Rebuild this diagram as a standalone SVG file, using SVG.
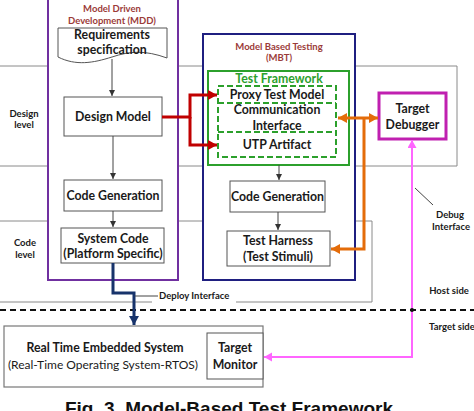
<svg xmlns="http://www.w3.org/2000/svg" width="474" height="411" viewBox="0 0 474 411">
<style>
text{font-family:Lato,"Liberation Sans",sans-serif;fill:#1a1a1a;text-anchor:middle}
.b{font-weight:bold;font-size:12.3px}
.r{font-size:12px}
.t{font-weight:bold;font-size:9.5px;fill:#9b3b39}
.s{font-weight:bold;font-size:9.5px}
.box{fill:#fff;stroke:#555;stroke-width:1}
.band{fill:none;stroke:#8a8a8a;stroke-width:1}
.thin{fill:none;stroke:#444;stroke-width:1}
.gdash{fill:none;stroke:#2ca02c;stroke-width:2;stroke-dasharray:6 3}
</style>
<defs>
<marker id="ag" markerUnits="userSpaceOnUse" markerWidth="8" markerHeight="8" refX="6" refY="3" orient="auto"><path d="M0,0L6,3L0,6z" fill="#333"/></marker>
<marker id="ar" markerUnits="userSpaceOnUse" markerWidth="12" markerHeight="12" refX="9" refY="5" orient="auto"><path d="M0,0L9,5L0,10z" fill="#c00000"/></marker>
<marker id="ao" markerUnits="userSpaceOnUse" markerWidth="12" markerHeight="12" refX="9" refY="5" orient="auto-start-reverse"><path d="M0,0L9,5L0,10z" fill="#e46c0a"/></marker>
<marker id="an" markerUnits="userSpaceOnUse" markerWidth="12" markerHeight="12" refX="9" refY="5" orient="auto"><path d="M0,0L9,5L0,10z" fill="#17336b"/></marker>
<marker id="ap" markerUnits="userSpaceOnUse" markerWidth="12" markerHeight="12" refX="8" refY="4.5" orient="auto-start-reverse"><path d="M0,0L8,4.5L0,9z" fill="#ff66ff"/></marker>
</defs>

<g id="bands">
<path class="band" d="M0,66H457V166H0"/>
<path class="band" d="M0,221H372V302H236M152,302H0"/>
<path d="M0,310H474" fill="none" stroke="#111" stroke-width="2" stroke-dasharray="6 4"/>
</g>

<g id="labels">
<text class="s" x="24" y="116.5">Design</text>
<text class="s" x="24" y="128">level</text>
<text class="s" x="25" y="246">Code</text>
<text class="s" x="25" y="257.5">level</text>
<text class="s" x="450" y="217.5">Debug</text>
<text class="s" x="451" y="229.5">Interface</text>
<text class="s" x="449" y="293.5">Host side</text>
<text class="s" x="429" y="329.5" style="text-anchor:start">Target side</text>
<path class="thin" d="M415,188L433,205" stroke="#555"/>
</g>

<g id="mdd">
<rect x="48" y="-3" width="130" height="283" fill="#fff" stroke="#7030a0" stroke-width="2"/>
<text class="t" x="112" y="11.5">Model Driven</text>
<text class="t" x="112" y="23.5">Development (MDD)</text>
</g>
<g id="requirements">
<path class="box" d="M58,28H167V58C145,50 130,51 112,57C93,63 76,66 58,57Z"/>
<text class="b" x="112" y="38.5">Requirements</text>
<text class="b" x="112" y="54">specification</text>
</g>
<g id="design-model">
<rect class="box" x="64" y="97" width="98" height="39"/>
<text class="b" x="113" y="120.5">Design Model</text>
</g>
<g id="code-gen-mdd">
<rect class="box" x="64" y="180" width="98" height="31"/>
<text class="b" x="113" y="200">Code Generation</text>
</g>
<g id="system-code">
<rect class="box" x="61" y="228" width="103" height="35"/>
<text class="b" x="113" y="242.5">System Code</text>
<text class="b" x="113" y="258">(Platform Specific)</text>
</g>

<g id="mbt">
<rect x="203" y="34" width="152" height="246" fill="#fff" stroke="#1f1f80" stroke-width="2"/>
<text class="t" x="279" y="49.5">Model Based Testing</text>
<text class="t" x="279" y="61">(MBT)</text>
</g>
<g id="test-framework">
<rect x="208" y="71" width="141" height="94" fill="#fff" stroke="#2ca02c" stroke-width="2"/>
<text class="b" x="279" y="83" style="fill:#2ca02c">Test Framework</text>
<rect class="gdash" x="218" y="86" width="118" height="71"/>
<path class="gdash" d="M218,103H336M218,132H336"/>
</g>
<g id="proxy-test-model">
<text class="b" x="277" y="99">Proxy Test Model</text>
</g>
<g id="communication-interface">
<text class="b" x="277" y="113.5">Communication</text>
<text class="b" x="277" y="129.5">Interface</text>
</g>
<g id="utp-artifact">
<text class="b" x="277" y="148.5">UTP Artifact</text>
</g>
<g id="code-gen-mbt">
<rect class="box" x="230" y="181" width="95" height="31"/>
<text class="b" x="277.5" y="200.5">Code Generation</text>
</g>
<g id="test-harness">
<rect class="box" x="227" y="231" width="103" height="35"/>
<text class="b" x="278" y="245">Test Harness</text>
<text class="b" x="278" y="261">(Test Stimuli)</text>
</g>

<g id="target-debugger">
<rect x="379" y="93" width="67" height="46" fill="#fff" stroke="#c020b0" stroke-width="3"/>
<text class="b" x="412.5" y="113">Target</text>
<text class="b" x="412.5" y="129">Debugger</text>
</g>

<g id="rtes">
<rect x="4" y="326" width="259" height="61" fill="#fff" stroke="#777" stroke-width="1.2"/>
<text class="b" x="105" y="352">Real Time Embedded System</text>
<text class="r" x="103" y="368.5">(Real-Time Operating System-RTOS)</text>
</g>
<g id="target-monitor">
<rect class="box" x="207" y="333" width="56" height="46"/>
<text class="b" x="235" y="352">Target</text>
<text class="b" x="235" y="368.5">Monitor</text>
</g>

<g id="connectors">
<path class="thin" d="M112,59V96" marker-end="url(#ag)"/>
<path class="thin" d="M113,136V179" marker-end="url(#ag)"/>
<path class="thin" d="M113,211V227" marker-end="url(#ag)"/>
<path class="thin" d="M279,165V180" marker-end="url(#ag)"/>
<path class="thin" d="M278,212V230" marker-end="url(#ag)"/>
<path d="M162,117H190V95H217" fill="none" stroke="#c00000" stroke-width="3" marker-end="url(#ar)"/>
<path d="M190,117V145H217" fill="none" stroke="#c00000" stroke-width="3" marker-end="url(#ar)"/>
<path d="M338,118H378" fill="none" stroke="#e46c0a" stroke-width="3" marker-start="url(#ao)" marker-end="url(#ao)"/>
<path d="M364,118V249H331" fill="none" stroke="#e46c0a" stroke-width="3" marker-end="url(#ao)"/>
<path d="M264,357H412V140" fill="none" stroke="#ff66ff" stroke-width="2" marker-start="url(#ap)" marker-end="url(#ap)"/>
<path d="M113,263V293H134V325" fill="none" stroke="#17336b" stroke-width="3" marker-end="url(#an)"/>
<circle cx="412" cy="310" r="2" fill="#111"/>
<path class="thin" d="M135,296H158" stroke="#555"/>
<text class="s" x="159" y="299" style="text-anchor:start">Deploy Interface</text>
</g>

<text x="229" y="415" style="font-family:'Liberation Sans',Arial,sans-serif;font-weight:bold;font-size:19px;fill:#111">Fig. 3. Model-Based Test Framework</text>
</svg>
